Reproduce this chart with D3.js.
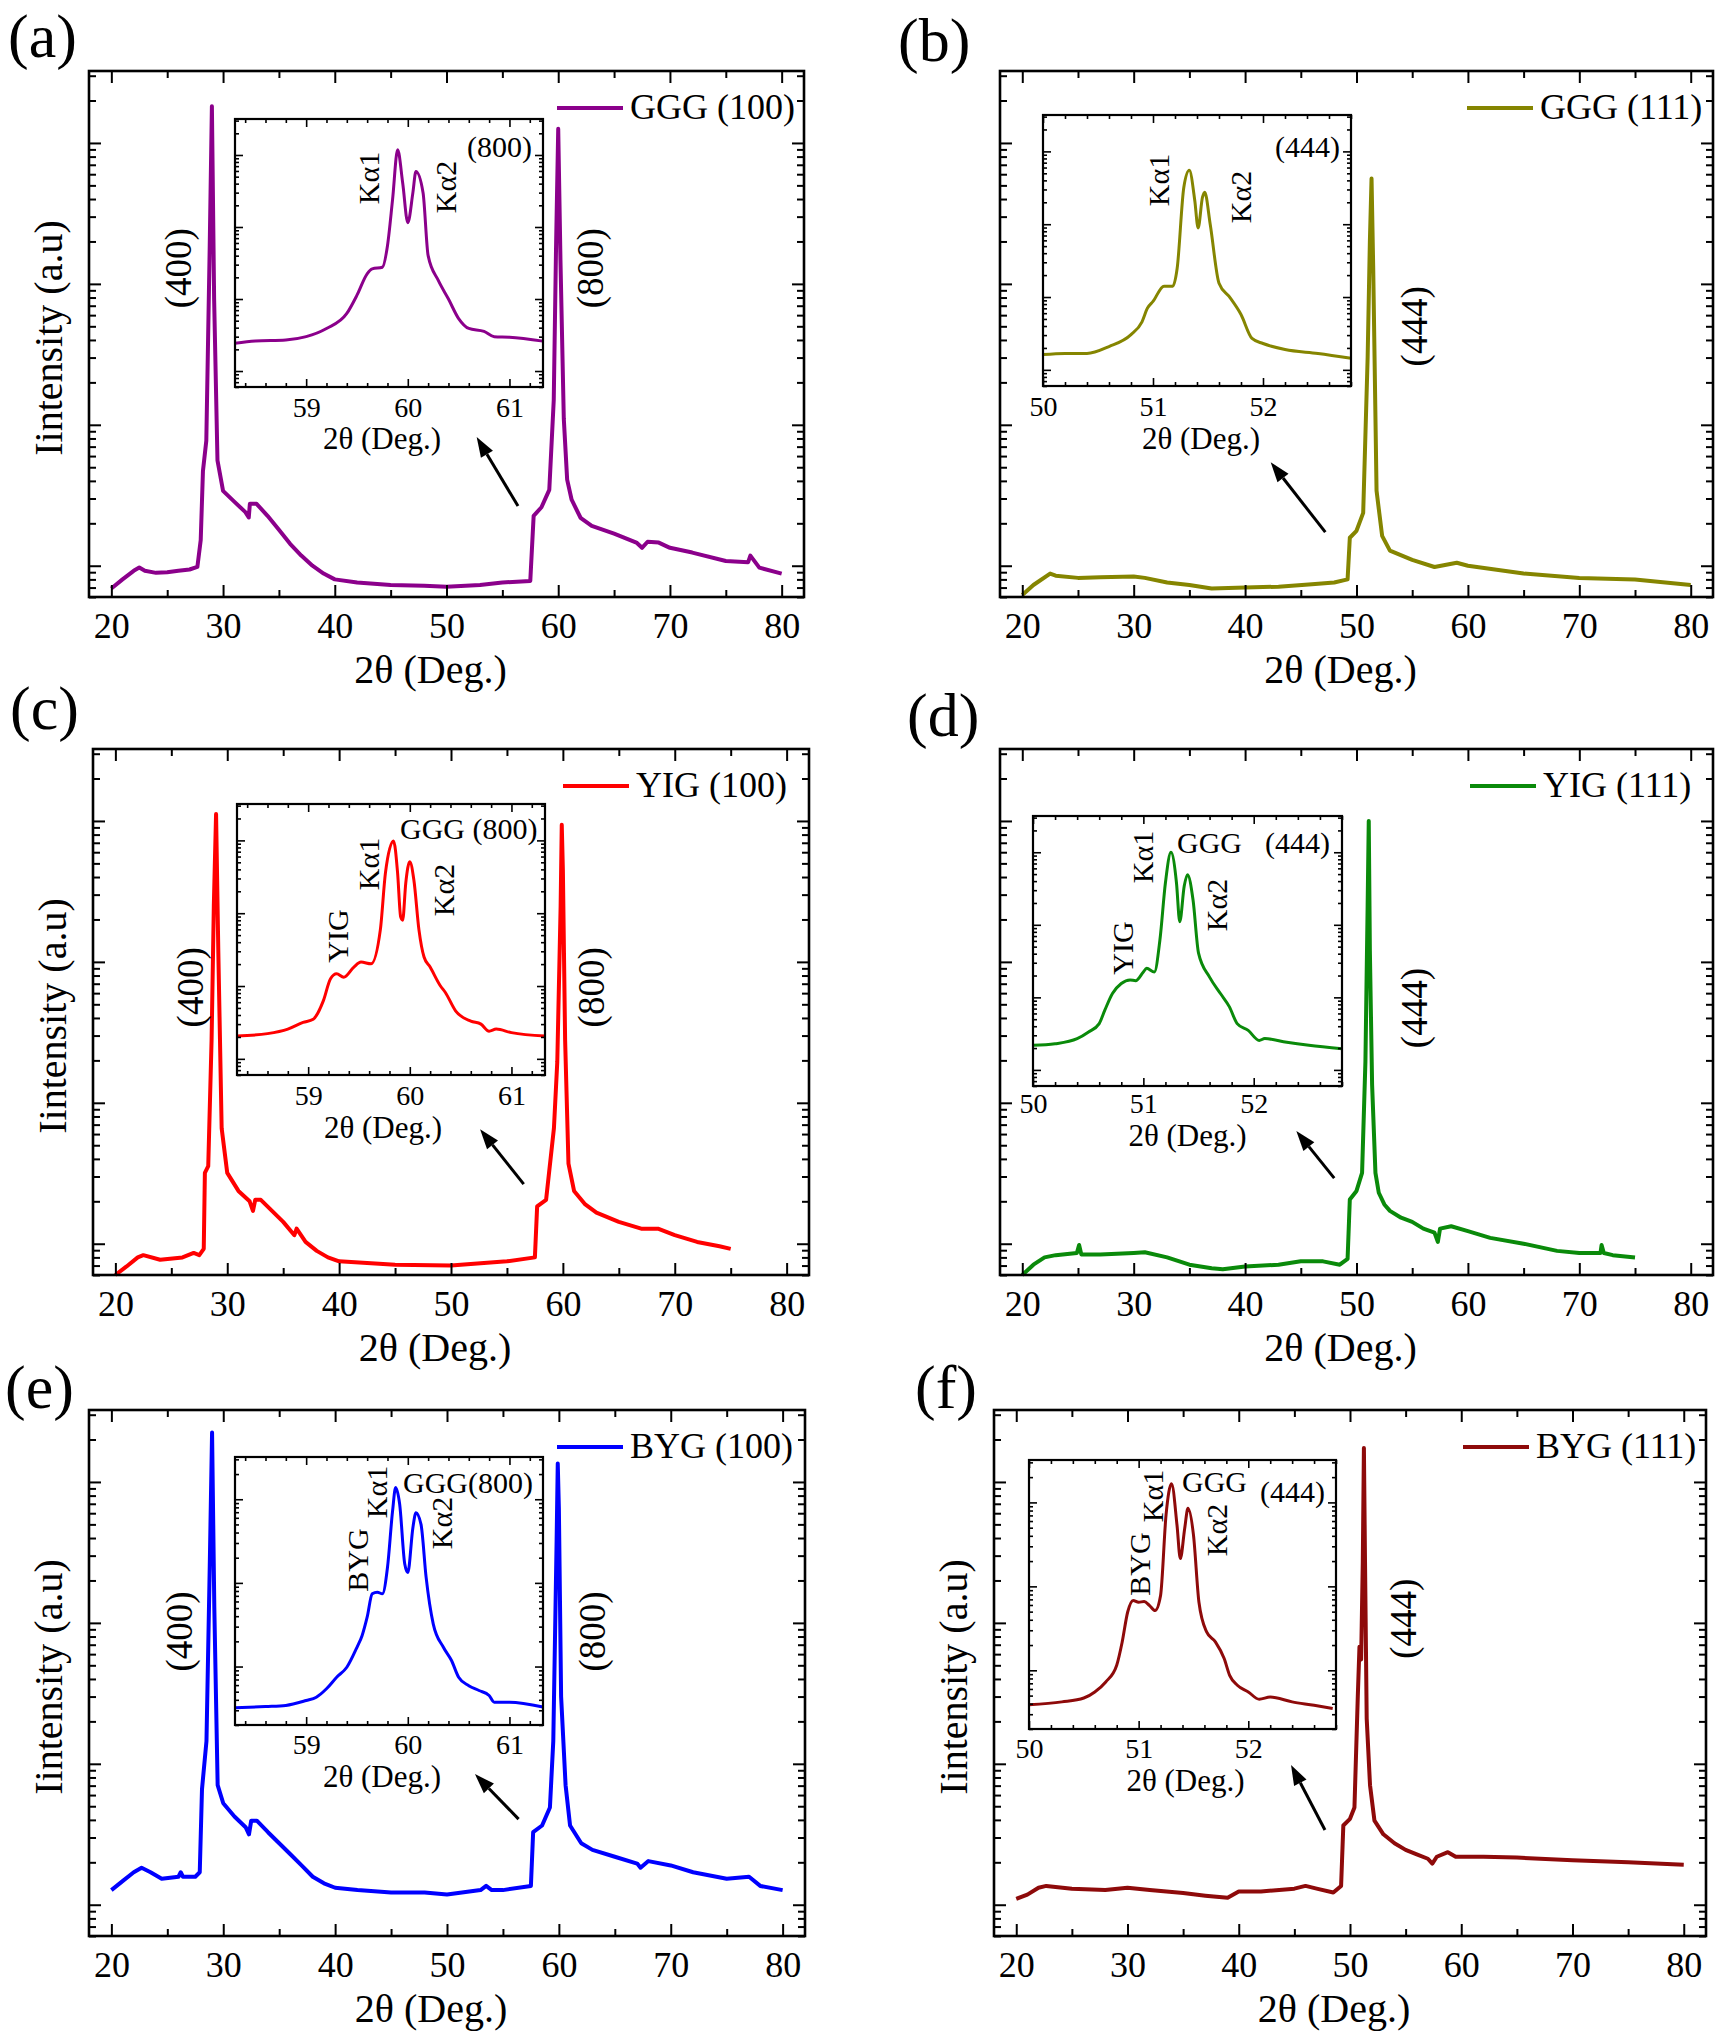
<!DOCTYPE html>
<html>
<head>
<meta charset="utf-8">
<script src="https://cdn.jsdelivr.net/npm/d3@7"></script>
<style>
  body { margin: 0; background: #fff; }
  text { font-family: "Liberation Serif", "Times New Roman", serif; }
</style>
</head>
<body>
<script>
// main scans: [2θ (deg), intensity (counts)]
const gggA = [[20,69],[21,80],[22,92],[22.5,97],[23,92],[24,89],[25,90],[26,92],[27,94],[27.7,98],[28.0,152],[28.2,470],[28.5,770],[28.8,17400],[29.0,182000],[29.2,7800],[29.5,560],[30,340],[31,285],[32,240],[32.3,220],[32.4,275],[33,275],[34,225],[35,180],[36,143],[37,118],[38,100],[39,88],[40,80],[42,76],[45,73],[48,72],[50,71],[53,73],[55,76],[57.5,78],[57.8,226],[58.5,260],[59.2,345],[59.6,1500],[59.8,17000],[60.0,126000],[60.2,14800],[60.5,1100],[60.8,408],[61.2,294],[62,219],[63,192],[65,169],[67,146],[67.5,134],[68,148],[69,146],[70,134],[72,124],[75,108],[77,106],[77.2,118],[78,97],[80,88]];
const gggB = [[20,62],[21,73],[22.5,88],[23,85],[25,82],[27,83],[30,84],[31,82],[33,76],[35,73],[37,69],[40,70],[43,71],[46,74],[48,76],[49.2,80],[49.4,158],[50,177],[50.6,237],[51.0,3000],[51.2,20000],[51.35,56000],[51.5,13000],[51.8,340],[52.3,163],[53,128],[55,110],[57,98],[59,105],[60,100],[65,88],[70,82],[75,80],[80,73]];
const yigC = [[20,60],[21,69],[22,80],[22.5,83],[24,77],[26,80],[27,86],[27.5,83],[27.9,92],[28.0,318],[28.3,355],[28.6,2800],[28.8,25000],[29.0,112000],[29.2,12000],[29.5,660],[30,318],[31,237],[32,200],[32.3,171],[32.5,205],[33,205],[34,171],[35,143],[36,115],[36.2,128],[37,103],[38,89],[39,80],[40,75],[45,71],[50,70],[55,75],[57.5,80],[57.7,184],[58.5,205],[59.2,660],[59.5,1950],[59.8,25000],[59.9,94000],[60.0,45000],[60.2,2800],[60.5,370],[61,237],[62,190],[63,166],[65,143],[67,128],[68.5,128],[70,115],[72,103],[74,96],[75,92]];
const yigD = [[20,60],[21,71],[22,80],[23,83],[24.9,86],[25.1,98],[25.3,84],[27,84],[30,86],[31,87],[33,80],[35,71],[37,67],[38,66],[40,69],[43,71],[45,75],[47,75],[48.5,71],[49.2,78],[49.4,206],[50,237],[50.5,318],[50.8,1950],[51.0,25000],[51.1,100000],[51.2,12000],[51.4,1350],[51.7,318],[52,230],[52.5,190],[53,171],[54,153],[55,143],[56,128],[57,120],[57.3,103],[57.5,128],[58.5,133],[60,123],[62,110],[65,100],[68,89],[70,86],[71.9,86],[72,98],[72.2,86],[73,83],[75,80]];
const bygE = [[20,127],[21,147],[22,170],[22.7,183],[23.5,170],[24.5,153],[26,158],[26.2,170],[26.4,158],[27.5,158],[27.9,170],[28.1,660],[28.5,1450],[28.8,27000],[29.0,224000],[29.2,13000],[29.5,705],[30,525],[31,423],[32,355],[32.3,316],[32.5,395],[33,395],[34,327],[35,273],[36,228],[37,190],[38,158],[39,142],[40,132],[42,127],[45,122],[48,122],[50,118],[53,127],[53.5,136],[54,127],[55,127],[57.5,136],[57.7,327],[58.5,365],[59.2,490],[59.5,1450],[59.8,39000],[59.9,135000],[60.0,65000],[60.2,3000],[60.6,705],[61,365],[62,273],[63,245],[65,219],[67,196],[67.3,183],[68,204],[70,190],[72,170],[75,153],[77,158],[78,136],[80,127]];
const bygF = [[20,110],[21,118],[22,132],[22.7,136],[25,130],[28,127],[30,132],[32,127],[35,121],[37,116],[39,112],[40,124],[42,124],[45,130],[46,136],[47,130],[48.5,122],[49.2,136],[49.4,365],[50,407],[50.4,490],[50.7,3000],[50.85,6760],[51.0,5500],[51.15,27000],[51.25,174000],[51.35,27000],[51.5,2100],[51.8,705],[52.2,395],[53,316],[54,273],[55,245],[56,228],[57,212],[57.4,196],[57.8,219],[58.8,236],[59.5,219],[62,219],[65,216],[70,207],[75,200],[80,192]];

// zoomed scans around the substrate peak
const insetA = [[58.3,243],[58.5,261],[58.8,270],[59.0,300],[59.2,390],[59.4,630],[59.5,1130],[59.6,2240],[59.65,2620],[59.75,2760],[59.8,5500],[59.85,24000],[59.9,118000],[59.95,40500],[60.0,11500],[60.05,30000],[60.08,59000],[60.15,30000],[60.2,4000],[60.3,1810],[60.4,1000],[60.5,535],[60.6,390],[60.75,355],[60.85,300],[61.0,295],[61.33,260]];
const insetB = [[50.0,162],[50.2,168],[50.4,168],[50.6,209],[50.8,304],[50.9,457],[50.95,705],[51.0,870],[51.1,1410],[51.18,1410],[51.22,2500],[51.28,32000],[51.33,55000],[51.38,21000],[51.41,8900],[51.45,23500],[51.47,27500],[51.52,10000],[51.6,1550],[51.7,980],[51.8,575],[51.9,270],[52.0,230],[52.2,190],[52.5,168],[52.8,144]];
const insetC = [[58.3,206],[58.6,222],[58.8,256],[58.95,316],[59.05,350],[59.15,630],[59.22,1260],[59.28,1470],[59.35,1320],[59.45,1820],[59.52,2130],[59.62,2020],[59.71,5900],[59.76,35500],[59.84,98000],[59.88,35500],[59.91,8900],[59.93,8030],[59.96,25700],[60.0,51000],[60.04,28600],[60.09,5900],[60.14,2500],[60.2,1820],[60.3,1010],[60.35,815],[60.45,457],[60.6,330],[60.7,300],[60.78,240],[60.85,256],[61.0,229],[61.33,206]];
const insetD = [[50.0,218],[50.2,229],[50.4,269],[50.5,331],[50.6,435],[50.65,661],[50.72,1130],[50.8,1550],[50.88,1740],[50.93,1700],[51.0,2240],[51.03,2510],[51.1,2240],[51.15,6170],[51.2,38000],[51.25,100000],[51.3,38000],[51.33,11000],[51.37,34000],[51.4,49000],[51.45,22100],[51.5,4070],[51.6,1900],[51.7,1120],[51.78,740],[51.85,435],[51.95,350],[52.05,255],[52.1,270],[52.3,240],[52.5,218],[52.8,195]];
const insetE = [[58.3,321],[58.6,333],[58.8,343],[59.0,393],[59.1,430],[59.2,542],[59.3,745],[59.4,980],[59.5,1700],[59.55,2340],[59.6,3890],[59.65,7400],[59.7,7750],[59.75,7400],[59.8,15300],[59.85,72000],[59.88,138000],[59.92,87000],[59.97,16800],[60.0,13300],[60.05,45700],[60.08,69000],[60.13,50000],[60.18,11700],[60.25,3240],[60.35,1700],[60.43,1180],[60.5,745],[60.6,590],[60.7,517],[60.8,450],[60.85,375],[61.0,375],[61.33,328]];
const insetF = [[50.0,390],[50.3,421],[50.5,468],[50.6,553],[50.7,727],[50.8,1150],[50.85,2180],[50.9,4950],[50.95,6800],[51.0,6460],[51.05,6600],[51.1,5900],[51.15,5150],[51.2,7800],[51.25,71000],[51.3,167000],[51.35,53500],[51.38,21400],[51.42,49000],[51.45,85000],[51.5,41000],[51.55,6460],[51.62,2870],[51.7,2180],[51.78,1380],[51.83,870],[51.9,665],[52.0,553],[52.1,452],[52.2,480],[52.4,421],[52.6,383],[52.77,350]];

// axes
const xTickLabels = [20, 30, 40, 50, 60, 70, 80];
const xMinorTicks = [25, 35, 45, 55, 65, 75];
const insetTicks100 = [59, 60, 61];
const insetTicks111 = [50, 51, 52];
const mainXDomain = [18, 82];
const mainYDomain = [60, 324000];
const inset100XDomain = [58.3, 61.33];
const inset111XDomain = [50, 52.8];
const insetYDomainLow = [60, 316000];
const insetYDomainHigh = [200, 320000];

const panels = [
  { label: "(a)", labelPos: [8, 57], name: "GGG (100)", color: "#8b008b", data: gggA,
    frame: [89, 71, 804, 597], legendX: 630,
    peaks: [["(400)", 26.0, 12900], ["(800)", 62.9, 12900]],
    arrow: [[56.4, 265], [52.7, 818]],
    inset: { data: insetA, frame: [235, 119, 543, 387], xDomain: inset100XDomain, yDomain: insetYDomainLow,
      ticks: insetTicks100, tickPad: 30, titlePad: 62, titleDx: -7,
      notes: [["(800)", 232, 38, false], ["Kα1", 133, 59, true], ["Kα2", 210, 68, true]] } },
  { label: "(b)", labelPos: [898, 61], name: "GGG (111)", color: "#858500", data: gggB,
    frame: [1000, 71, 1713, 597], legendX: 1540, titleClip: 951,
    peaks: [["(444)", 55.25, 5000]],
    arrow: [[47.2, 173], [42.3, 543]],
    inset: { data: insetB, frame: [1043, 115, 1351, 386], xDomain: inset111XDomain, yDomain: insetYDomainLow,
      ticks: insetTicks111, tickPad: 30, titlePad: 63, titleDx: 4,
      notes: [["(444)", 232, 42, false], ["Kα1", 115, 65, true], ["Kα2", 197, 82, true]] } },
  { label: "(c)", labelPos: [10, 729], name: "YIG (100)", color: "#ff0000", data: yigC,
    frame: [93, 749, 809, 1275], legendX: 636,
    peaks: [["(400)", 26.7, 6600], ["(800)", 62.6, 6600]],
    arrow: [[56.5, 265], [52.6, 650]],
    inset: { data: insetC, frame: [237, 804, 545, 1075], xDomain: inset100XDomain, yDomain: insetYDomainLow,
      ticks: insetTicks100, tickPad: 30, titlePad: 63, titleDx: -8,
      notes: [["GGG (800)", 163, 35, false], ["Kα1", 131, 60, true], ["Kα2", 206, 86, true], ["YIG", 100, 132, true]] } },
  { label: "(d)", labelPos: [907, 736], name: "YIG (111)", color: "#0a8a0a", data: yigD,
    frame: [1000, 749, 1713, 1275], legendX: 1543, titleClip: 951,
    peaks: [["(444)", 55.25, 4700]],
    arrow: [[48.0, 292], [44.6, 630]],
    inset: { data: insetD, frame: [1033, 816, 1342, 1086], xDomain: inset111XDomain, yDomain: insetYDomainLow,
      ticks: insetTicks111, tickPad: 27, titlePad: 60, titleDx: 0,
      notes: [["GGG", 144, 37, false], ["(444)", 232, 37, false], ["Kα1", 109, 41, true], ["Kα2", 183, 89, true], ["YIG", 89, 132, true]] } },
  { label: "(e)", labelPos: [5, 1408], name: "BYG (100)", color: "#0000ff", data: bygE,
    frame: [89, 1410, 805, 1936], legendX: 630,
    peaks: [["(400)", 26.1, 8700], ["(800)", 63.0, 8700]],
    arrow: [[56.4, 405], [52.5, 845]],
    inset: { data: insetE, frame: [235, 1457, 543, 1725], xDomain: inset100XDomain, yDomain: insetYDomainHigh,
      ticks: insetTicks100, tickPad: 29, titlePad: 62, titleDx: -7,
      notes: [["GGG(800)", 168, 36, false], ["Kα1", 141, 35, true], ["Kα2", 206, 66, true], ["BYG", 122, 103, true]] } },
  { label: "(f)", labelPos: [915, 1408], name: "BYG (111)", color: "#8e0a0a", data: bygF,
    frame: [994, 1410, 1706, 1936], legendX: 1536,
    peaks: [["(444)", 54.85, 10700]],
    arrow: [[47.75, 339], [44.7, 980]],
    inset: { data: insetF, frame: [1029, 1460, 1336, 1729], xDomain: inset111XDomain, yDomain: insetYDomainHigh,
      ticks: insetTicks111, tickPad: 29, titlePad: 62, titleDx: 3,
      notes: [["GGG", 153, 32, false], ["(444)", 231, 42, false], ["Kα1", 123, 36, true], ["Kα2", 187, 70, true], ["BYG", 110, 104, true]] } }
];

const width = 1720, height = 2039;
const svg = d3.select("body").append("svg").attr("width", width).attr("height", height);
svg.append("rect").attr("width", width).attr("height", height).attr("fill", "#fff");

function logTicks(dom) {
  const major = [], minor = [];
  const e0 = Math.floor(Math.log10(dom[0])), e1 = Math.ceil(Math.log10(dom[1]));
  for (let e = e0; e <= e1; e++) {
    for (let k = 1; k <= 9; k++) {
      const v = k * Math.pow(10, e);
      if (v < dom[0] || v > dom[1]) continue;
      (k === 1 ? major : minor).push(v);
    }
  }
  return { major, minor };
}

/** inward ticks on all four sides */
function drawTicks(g, x, y, xMaj, xMin, yMaj, yMin, len, minLen, sw) {
  const [l, r] = x.range(), [b, t] = y.range();
  const sets = [
    [d3.axisBottom, x, `translate(0,${b})`, xMaj, len], [d3.axisBottom, x, `translate(0,${b})`, xMin, minLen],
    [d3.axisTop, x, `translate(0,${t})`, xMaj, len], [d3.axisTop, x, `translate(0,${t})`, xMin, minLen],
    [d3.axisLeft, y, `translate(${l},0)`, yMaj, len], [d3.axisLeft, y, `translate(${l},0)`, yMin, minLen],
    [d3.axisRight, y, `translate(${r},0)`, yMaj, len], [d3.axisRight, y, `translate(${r},0)`, yMin, minLen]
  ];
  sets.forEach(([fn, sc, tr, vals, size]) => {
    const a = g.append("g").attr("transform", tr)
      .call(fn(sc).tickValues(vals).tickSize(-size).tickFormat(""));
    a.select(".domain").remove();
    a.selectAll("line").attr("stroke", "#000").attr("stroke-width", sw);
  });
}

function tickLabels(g, x, bottom, vals, fs, pad) {
  const a = g.append("g").attr("transform", `translate(0,${bottom})`)
    .call(d3.axisBottom(x).tickValues(vals).tickSize(0).tickPadding(pad).tickFormat(d3.format("d")));
  a.select(".domain").remove();
  a.attr("font-size", fs).attr("font-family", null);
  a.selectAll("text").attr("fill", "#000");
}

function drawInset(g, p) {
  const s = p.inset;
  const [l, t, r, b] = s.frame;
  const x = d3.scaleLinear().domain(s.xDomain).range([l, r]);
  const y = d3.scaleLog().domain(s.yDomain).range([b, t]);

  g.append("rect").attr("x", l).attr("y", t).attr("width", r - l).attr("height", b - t).attr("fill", "#fff");

  g.append("path").datum(s.data)
    .attr("fill", "none").attr("stroke", p.color).attr("stroke-width", 3)
    .attr("stroke-linejoin", "round")
    .attr("d", d3.line().curve(d3.curveMonotoneX).x(d => x(d[0])).y(d => y(d[1])));

  const minors = d3.range(Math.ceil(s.xDomain[0] * 5), Math.floor(s.xDomain[1] * 5) + 1)
    .filter(k => k % 5 !== 0).map(k => k / 5);
  const yt = logTicks(s.yDomain);
  drawTicks(g, x, y, s.ticks, minors, yt.major, yt.minor, 8, 4, 1.6);

  g.append("rect").attr("x", l).attr("y", t).attr("width", r - l).attr("height", b - t)
    .attr("fill", "none").attr("stroke", "#000").attr("stroke-width", 2.2);

  tickLabels(g, x, b, s.ticks, 28, s.tickPad - 20);

  g.append("text").attr("x", (l + r) / 2 + s.titleDx).attr("y", b + s.titlePad)
    .attr("text-anchor", "middle").attr("font-size", 31).text("2θ (Deg.)");

  s.notes.forEach(([txt, dx, dy, rot]) => {
    if (rot) {
      g.append("text").attr("transform", `translate(${l + dx},${t + dy}) rotate(-90)`)
        .attr("text-anchor", "middle").attr("dominant-baseline", "central")
        .attr("font-size", 30).text(txt);
    } else {
      g.append("text").attr("x", l + dx).attr("y", t + dy).attr("font-size", 30).text(txt);
    }
  });
}

function drawPanel(p, i) {
  const [l, t, r, b] = p.frame;
  const x = d3.scaleLinear().domain(mainXDomain).range([l, r]);
  const y = d3.scaleLog().domain(mainYDomain).range([b, t]);
  const g = svg.append("g");

  g.append("path").datum(p.data)
    .attr("fill", "none").attr("stroke", p.color).attr("stroke-width", 4)
    .attr("stroke-linejoin", "round")
    .attr("d", d3.line().x(d => x(d[0])).y(d => y(d[1])));

  const yt = logTicks(mainYDomain);
  drawTicks(g, x, y, xTickLabels, xMinorTicks, yt.major, yt.minor, 12, 7, 2);
  g.append("rect").attr("x", l).attr("y", t).attr("width", r - l).attr("height", b - t)
    .attr("fill", "none").attr("stroke", "#000").attr("stroke-width", 2.6);

  tickLabels(g, x, b, xTickLabels, 36, 15);

  g.append("text").attr("x", (l + r) / 2 - 16).attr("y", b + 86)
    .attr("text-anchor", "middle").attr("font-size", 40).text("2θ (Deg.)");

  const title = g.append("text")
    .attr("transform", `translate(${l - 27},${(t + b) / 2 + 4}) rotate(-90)`)
    .attr("text-anchor", "middle").attr("font-size", 40).text("Iintensity (a.u)");
  if (p.titleClip) {
    const id = "clip" + i;
    svg.append("clipPath").attr("id", id).append("rect")
      .attr("x", p.titleClip).attr("y", 0).attr("width", l - p.titleClip).attr("height", height);
    title.attr("clip-path", `url(#${id})`);
  }

  g.append("text").attr("x", p.labelPos[0]).attr("y", p.labelPos[1])
    .attr("font-size", 62).text(p.label);

  // legend
  const ly = t + 37;
  g.append("line").attr("x1", p.legendX - 73).attr("x2", p.legendX - 7).attr("y1", ly).attr("y2", ly)
    .attr("stroke", p.color).attr("stroke-width", 4);
  g.append("text").attr("x", p.legendX).attr("y", ly + 11).attr("font-size", 36).text(p.name);

  // peak indices
  p.peaks.forEach(([txt, th, v]) => {
    g.append("text").attr("transform", `translate(${x(th)},${y(v)}) rotate(-90)`)
      .attr("text-anchor", "middle").attr("dominant-baseline", "central")
      .attr("font-size", 37).text(txt);
  });

  drawInset(g, p);

  // arrow pointing at the inset
  const [x1, y1, x2, y2] = [x(p.arrow[0][0]), y(p.arrow[0][1]), x(p.arrow[1][0]), y(p.arrow[1][1])];
  const ang = Math.atan2(y2 - y1, x2 - x1), hl = 20, hw = 7;
  const bx = x2 - hl * Math.cos(ang), by = y2 - hl * Math.sin(ang);
  g.append("line").attr("x1", x1).attr("y1", y1).attr("x2", bx).attr("y2", by)
    .attr("stroke", "#000").attr("stroke-width", 3);
  g.append("path")
    .attr("d", `M${x2},${y2}L${bx + hw * Math.sin(ang)},${by - hw * Math.cos(ang)}L${bx - hw * Math.sin(ang)},${by + hw * Math.cos(ang)}Z`)
    .attr("fill", "#000");
}

panels.forEach(drawPanel);
</script>
</body>
</html>
